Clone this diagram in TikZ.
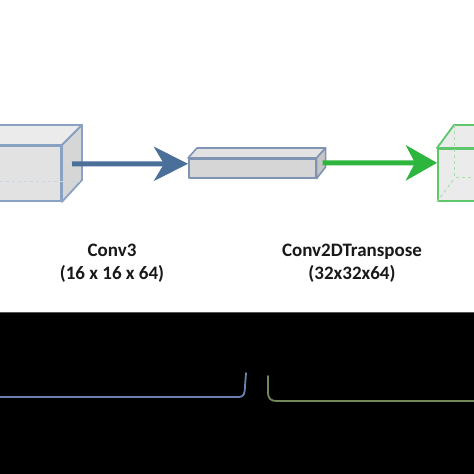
\documentclass[tikz,border=0pt]{standalone}
\usepackage{fontspec}
\setmainfont{Carlito}
\usepackage{tikz}
\usetikzlibrary{arrows.meta,calc}
\definecolor{blue600}  {HTML}{4A709A}
\definecolor{blue300}  {HTML}{8AA2C2}
\definecolor{blue350}  {HTML}{7F93B3}
\definecolor{green500} {HTML}{2DB53E}
\definecolor{green300} {HTML}{5EC66B}
\definecolor{grey100}  {HTML}{EBEBEB}
\definecolor{grey150}  {HTML}{E2E2E2}
\definecolor{grey200}  {HTML}{D6D6D6}
\definecolor{grey350}  {HTML}{C6C6C6}
\definecolor{grey600}  {HTML}{555555}
\definecolor{trace400} {HTML}{6A80B0}
\definecolor{olive400} {HTML}{74895A}
\tikzset{
  facec/.style ={draw=blue300, line width=1.8pt, fill=grey150,
                 inner sep=0pt, line join=round},
  faceb/.style ={draw=blue350, line width=1.6pt, fill=grey200,
                 inner sep=0pt, line join=round},
  faced/.style ={draw=green300, line width=1.8pt, fill=grey100,
                 inner sep=0pt, line join=round},
  hidc/.style  ={draw=blue300!45, line width=1pt, dashed},
  hidd/.style  ={draw=green300!55, line width=1pt, dashed},
  arb/.style   ={-{Stealth[length=34pt, width=34pt, inset=10pt]},
                 draw=blue600, fill=blue600, line width=5pt},
  arg/.style   ={-{Stealth[length=31pt, width=35pt, inset=9pt]},
                 draw=green500, fill=green500, line width=5pt},
  trace/.style ={line width=1.8pt, line cap=round, line join=round},
  lbl/.style   ={font=\fontsize{19}{23.5}\selectfont\bfseries, align=center,
                 text=black!90, inner sep=0pt}
}

\begin{document}
\begin{tikzpicture}[x=1pt, y=1pt]
\useasboundingbox (0,0) rectangle (474,-474);
\clip (0,0) rectangle (474,-474);
\fill[white] (0,0) rectangle (474,-474);

\node[facec, minimum width=110pt, minimum height=55pt, anchor=north east]
  (conv) at (62,-145) {};
\draw[facec, fill=grey100] (conv.north west) -- ++(20,20)
  -- ($(conv.north east)+(20,20)$) -- (conv.north east) -- cycle;
\draw[facec, fill=grey200] (conv.north east) -- ++(20,20) -- ++(0,-55)
  -- (conv.south east) -- cycle;
\draw[hidc] ($(conv.south west)+(20,20)$) -- ++(110,0);

\node[faceb, minimum width=127pt, minimum height=19pt, anchor=north west]
  (mid) at (188,-158) {};
\draw[faceb, fill=grey150] (mid.north west) -- ++(9,10)
  -- ($(mid.north east)+(9,10)$) -- (mid.north east) -- cycle;
\draw[faceb, fill=grey350] (mid.north east) -- ++(9,10) -- ++(0,-19)
  -- (mid.south east) -- cycle;

\node[faced, minimum width=100pt, minimum height=52pt, anchor=north west]
  (dec) at (437,-148) {};
\draw[faced, fill=grey100] (dec.north west) -- ++(17,23)
  -- ($(dec.north east)+(17,23)$) -- (dec.north east) -- cycle;
\draw[hidd] ($(dec.north west)+(17,23)$) -- ++(0,-52) -- ++(100,0);
\draw[hidd] (dec.south west) -- ++(17,23);

\draw[arb] ([xshift=10pt, yshift=9.5pt]conv.east) -- ([yshift=4.5pt]mid.west);
\draw[arg] ([xshift=6pt, yshift=5.5pt]mid.east) -- ([yshift=12pt]dec.west);

\node[lbl] (lconv) at (112,-263) {Conv3\\(16 x 16 x 64)};
\node[lbl] (ldec)  at (352,-263) {Conv2DTranspose\\(32x32x64)};

\fill[black] (0,-312) rectangle (474,-474);
\draw[grey600, line width=1pt] (0,-312) -- (474,-312);
\draw[trace, trace400] (0,-397) -- (239,-397)
  .. controls (244,-397) and (245,-393) .. (245,-386) -- (246,-373);
\draw[trace, olive400] (268,-376) -- (268,-392)
  .. controls (268,-399) and (271,-401) .. (277,-401) -- (474,-401);
\end{tikzpicture}
\end{document}
